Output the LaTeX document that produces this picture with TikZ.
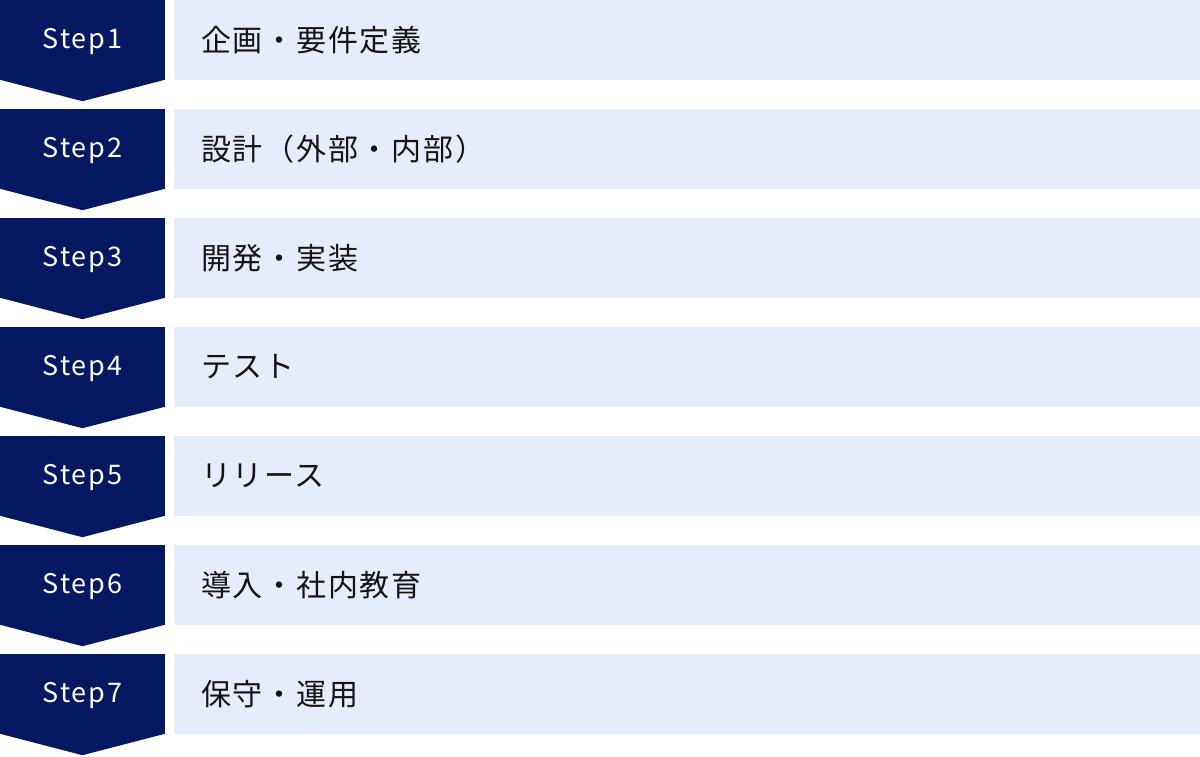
\documentclass[tikz,border=0pt]{standalone}
\usepackage{fontspec}
\usepackage{tikz}
\usetikzlibrary{positioning}
\newfontfamily\stepfont[LetterSpace=7]{Noto Sans CJK JP}
\newfontfamily\taskfont[LetterSpace=6]{Noto Sans CJK JP}
\definecolor{navy}{RGB}{5,24,98}
\definecolor{paleblue}{RGB}{230,236,249}
\definecolor{inkblack}{RGB}{20,20,20}

\begin{document}
\begin{tikzpicture}[node distance=109pt,on grid]
      \tikzset{stepbox/.style={fill=navy,rectangle,minimum width=165pt,minimum height=80pt,inner sep=0pt},
        steplabel/.style={text=white,inner sep=0pt,font=\stepfont\fontsize{27pt}{32pt}\selectfont},
        taskbox/.style={fill=paleblue,rectangle,text width=972pt,inner xsep=27pt,inner ysep=0pt,minimum height=80pt,align=left,text=inkblack,font=\taskfont\fontsize{30pt}{36pt}\selectfont}}
      \useasboundingbox (0,0) rectangle (1200pt,-756pt);

      \node[stepbox] (s1) at (82.5pt,-40pt) {};
      \node[stepbox] (s2) [below = of s1] {};
      \node[stepbox] (s3) [below = of s2] {};
      \node[stepbox] (s4) [below = of s3] {};
      \node[stepbox] (s5) [below = of s4] {};
      \node[stepbox] (s6) [below = of s5] {};
      \node[stepbox] (s7) [below = of s6] {};

      \fill[navy]
      ([yshift=0.5pt]s1.south west) -- ([yshift=0.5pt]s1.south east) -- ([yshift=-21pt]s1.south) -- cycle
      ([yshift=0.5pt]s2.south west) -- ([yshift=0.5pt]s2.south east) -- ([yshift=-21pt]s2.south) -- cycle
      ([yshift=0.5pt]s3.south west) -- ([yshift=0.5pt]s3.south east) -- ([yshift=-21pt]s3.south) -- cycle
      ([yshift=0.5pt]s4.south west) -- ([yshift=0.5pt]s4.south east) -- ([yshift=-21pt]s4.south) -- cycle
      ([yshift=0.5pt]s5.south west) -- ([yshift=0.5pt]s5.south east) -- ([yshift=-21pt]s5.south) -- cycle
      ([yshift=0.5pt]s6.south west) -- ([yshift=0.5pt]s6.south east) -- ([yshift=-21pt]s6.south) -- cycle
      ([yshift=0.5pt]s7.south west) -- ([yshift=0.5pt]s7.south east) -- ([yshift=-21pt]s7.south) -- cycle
      ;

      \node[steplabel] (l1) at ([yshift=-2pt]s1.center) {Step1};
      \node[steplabel] (l2) at ([yshift=-2pt]s2.center) {Step2};
      \node[steplabel] (l3) at ([yshift=-2pt]s3.center) {Step3};
      \node[steplabel] (l4) at ([yshift=-2pt]s4.center) {Step4};
      \node[steplabel] (l5) at ([yshift=-2pt]s5.center) {Step5};
      \node[steplabel] (l6) at ([yshift=-2pt]s6.center) {Step6};
      \node[steplabel] (l7) at ([yshift=-2pt]s7.center) {Step7};

      \node[taskbox] (t1) [right = 604.5pt of s1] {企画・要件定義};
      \node[taskbox] (t2) [right = 604.5pt of s2] {設計（外部・内部）};
      \node[taskbox] (t3) [right = 604.5pt of s3] {開発・実装};
      \node[taskbox] (t4) [right = 604.5pt of s4] {テスト};
      \node[taskbox] (t5) [right = 604.5pt of s5] {リリース};
      \node[taskbox] (t6) [right = 604.5pt of s6] {導入・社内教育};
      \node[taskbox] (t7) [right = 604.5pt of s7] {保守・運用};
    \end{tikzpicture}
\end{document}
